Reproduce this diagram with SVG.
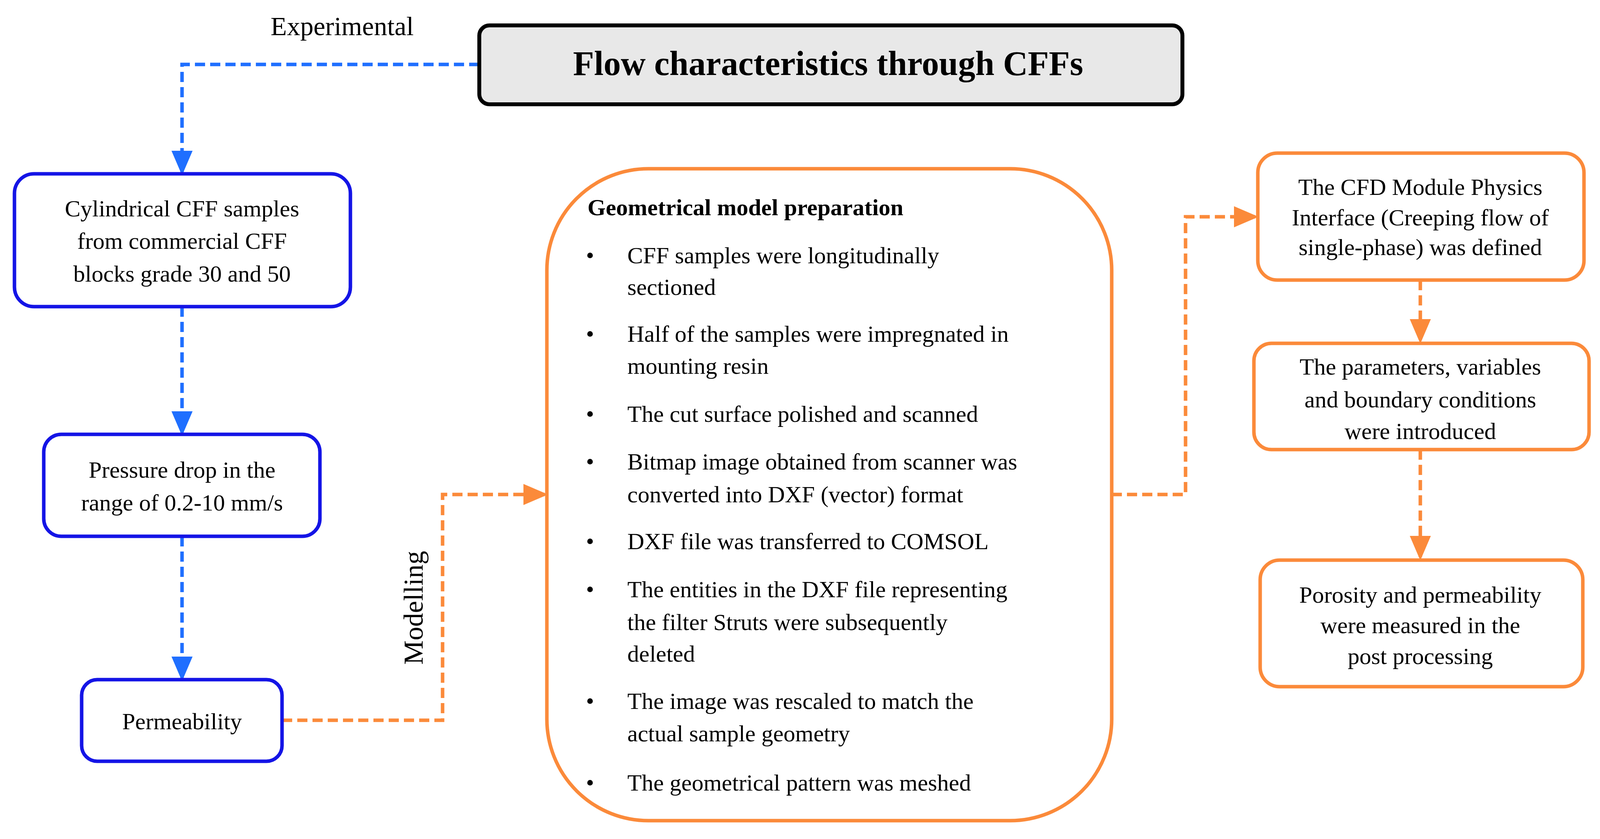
<svg xmlns="http://www.w3.org/2000/svg" width="4102" height="2148" viewBox="0 0 4102 2148">
<style>
text{font-family:"Liberation Serif","Times New Roman",serif;fill:#000}
.t{font-size:60px;text-anchor:middle}
.b{font-size:60px}
.blue{fill:#fff;stroke:#1414e6;stroke-width:9}
.or{fill:#fff;stroke:#fb8a3a;stroke-width:9}
.cb{fill:none;stroke:#1f6fff;stroke-width:9;stroke-dasharray:26 13}
.co{fill:none;stroke:#fb8a3a;stroke-width:9;stroke-dasharray:26 13}
</style>
<defs>
<marker id="ab" markerWidth="8" markerHeight="8" refX="6" refY="4" orient="auto" markerUnits="strokeWidth"><path d="M0,1 L7,4 L0,7 Z" fill="#1f6fff"/></marker>
<marker id="ao" markerWidth="8" markerHeight="8" refX="6" refY="4" orient="auto" markerUnits="strokeWidth"><path d="M0,1 L7,4 L0,7 Z" fill="#fb8a3a"/></marker>
</defs>
<rect width="4102" height="2148" fill="#fff"/>
<g id="connectors">
<path class="cb" d="M1227,165 H466 V440" marker-end="url(#ab)"/>
<path class="cb" d="M466,785 V1107" marker-end="url(#ab)"/>
<path class="cb" d="M466,1373 V1735" marker-end="url(#ab)"/>
<path class="co" d="M722,1844 H1133 V1266 H1394" marker-end="url(#ao)"/>
<path class="co" d="M2846,1266 H3035 V555 H3213" marker-end="url(#ao)"/>
<path class="co" d="M3636,717 V871" marker-end="url(#ao)"/>
<path class="co" d="M3636,1151 V1426" marker-end="url(#ao)"/>
<text x="876" y="90" font-size="68" text-anchor="middle">Experimental</text>
<text transform="translate(1082,1556) rotate(-90)" font-size="70" text-anchor="middle">Modelling</text>
</g>
<g id="title">
<rect x="1227" y="65" width="1800" height="202" rx="26" fill="#e8e8e8" stroke="#000" stroke-width="10"/>
<text x="2120" y="192" font-size="88" font-weight="bold" text-anchor="middle">Flow characteristics through CFFs</text>
</g>
<g id="samples">
<rect class="blue" x="37" y="445" width="860" height="340" rx="50"/>
<text class="t" x="466" y="554">Cylindrical CFF samples</text>
<text class="t" x="466" y="637">from commercial CFF</text>
<text class="t" x="466" y="721">blocks grade 30 and 50</text>
</g>
<g id="pressure">
<rect class="blue" x="112" y="1112" width="707" height="261" rx="45"/>
<text class="t" x="466" y="1223">Pressure drop in the</text>
<text class="t" x="466" y="1307">range of 0.2-10 mm/s</text>
</g>
<g id="permeability">
<rect class="blue" x="209" y="1740" width="513" height="209" rx="40"/>
<text class="t" x="466" y="1867">Permeability</text>
</g>
<g id="geometry">
<rect class="or" x="1400" y="432" width="1446" height="1669" rx="260"/>
<text class="b" x="1504" y="551" font-weight="bold">Geometrical model preparation</text>
<g class="b">
<text x="1500" y="674">•</text><text x="1606" y="674">CFF samples were longitudinally</text>
<text x="1606" y="755">sectioned</text>
<text x="1500" y="875">•</text><text x="1606" y="875">Half of the samples were impregnated in</text>
<text x="1606" y="957">mounting resin</text>
<text x="1500" y="1080">•</text><text x="1606" y="1080">The cut surface polished and scanned</text>
<text x="1500" y="1202">•</text><text x="1606" y="1202">Bitmap image obtained from scanner was</text>
<text x="1606" y="1286">converted into DXF (vector) format</text>
<text x="1500" y="1406">•</text><text x="1606" y="1406">DXF file was transferred to COMSOL</text>
<text x="1500" y="1529">•</text><text x="1606" y="1529">The entities in the DXF file representing</text>
<text x="1606" y="1613">the filter Struts were subsequently</text>
<text x="1606" y="1694">deleted</text>
<text x="1500" y="1815">•</text><text x="1606" y="1815">The image was rescaled to match the</text>
<text x="1606" y="1898">actual sample geometry</text>
<text x="1500" y="2024">•</text><text x="1606" y="2024">The geometrical pattern was meshed</text>
</g>
</g>
<g id="cfd">
<rect class="or" x="3220" y="392" width="835" height="325" rx="50"/>
<text class="t" x="3636" y="499">The CFD Module Physics</text>
<text class="t" x="3636" y="577">Interface (Creeping flow of</text>
<text class="t" x="3636" y="653">single-phase) was defined</text>
</g>
<g id="params">
<rect class="or" x="3210" y="879" width="858" height="272" rx="45"/>
<text class="t" x="3636" y="959">The parameters, variables</text>
<text class="t" x="3636" y="1043">and boundary conditions</text>
<text class="t" x="3636" y="1124">were introduced</text>
</g>
<g id="porosity">
<rect class="or" x="3226" y="1434" width="826" height="324" rx="50"/>
<text class="t" x="3636" y="1543">Porosity and permeability</text>
<text class="t" x="3636" y="1621">were measured in the</text>
<text class="t" x="3636" y="1700">post processing</text>
</g>
</svg>
